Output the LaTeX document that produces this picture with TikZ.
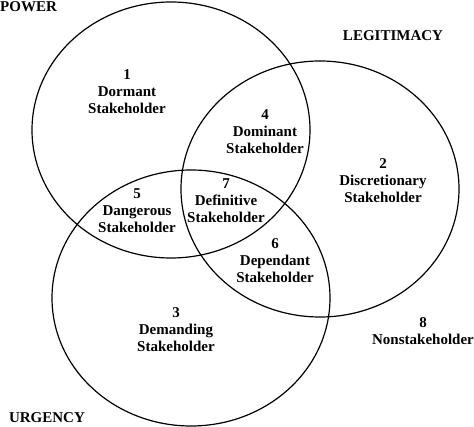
\documentclass[tikz,border=0pt]{standalone}
\usepackage{fontspec}
\setmainfont{Liberation Serif}
\begin{document}
\begin{tikzpicture}[x=1pt, y=-1pt,
		every node/.style={font=\bfseries\fontsize{15}{17}\selectfont, align=center, inner sep=0pt},
		set/.style={line width=1.2pt}]
			\useasboundingbox (0,0) rectangle (474,427);
			\draw[set] (171,130) ellipse [x radius=139, y radius=128];
			\draw[set] (320,189) ellipse [x radius=139, y radius=128];
			\draw[set] (191,298) ellipse [x radius=139, y radius=128];
			\node[anchor=west] (power) at (0,7) {POWER};
			\node (legitimacy) at (393,36) {LEGITIMACY};
			\node (urgency) at (47,418) {URGENCY};
			\node (dormant) at (127,92) {1\\Dormant\\Stakeholder};
			\node (discretionary) at (383,181) {2\\Discretionary\\Stakeholder};
			\node (demanding) at (176,330) {3\\Demanding\\Stakeholder};
			\node (dominant) at (265,132) {4\\Dominant\\Stakeholder};
			\node (dangerous) at (137,211) {5\\Dangerous\\Stakeholder};
			\node (dependant) at (275,261) {6\\Dependant\\Stakeholder};
			\node (definitive) at (226,201) {7\\Definitive\\Stakeholder};
			\node (nonstake) at (423,331) {8\\Nonstakeholder};
		\end{tikzpicture}
\end{document}
